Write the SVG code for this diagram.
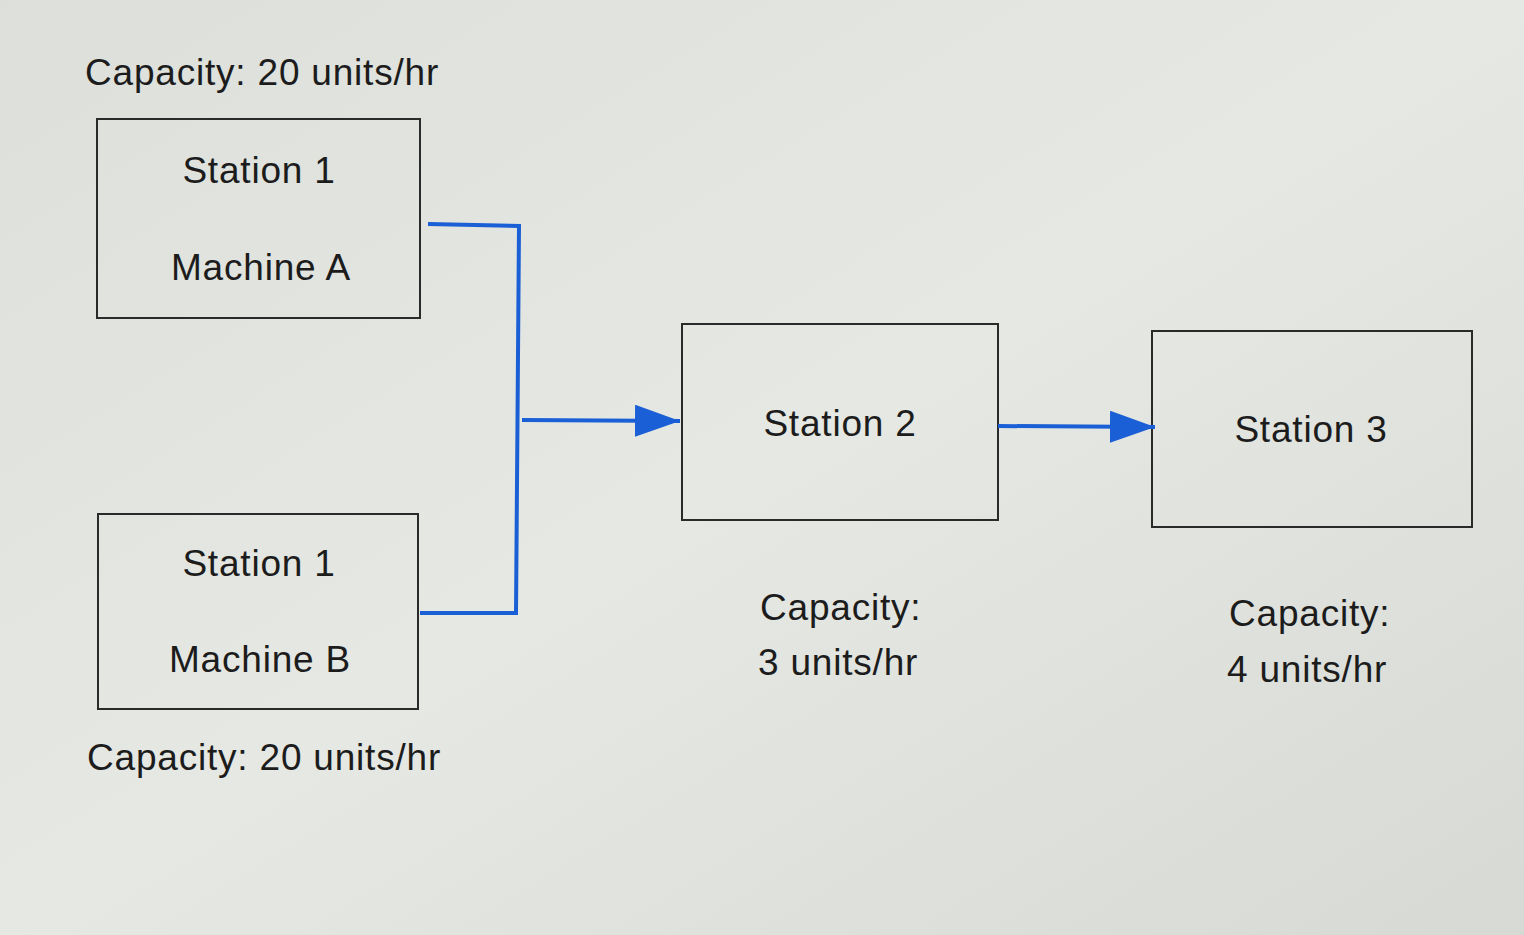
<svg xmlns="http://www.w3.org/2000/svg" width="1524" height="935" viewBox="0 0 1524 935">
<defs>
<linearGradient id="bg" x1="0" y1="0" x2="1" y2="1">
<stop offset="0" stop-color="#dcdfda"/><stop offset="0.5" stop-color="#e6e8e3"/><stop offset="1" stop-color="#d6d9d4"/>
</linearGradient>
<marker id="ah2" viewBox="0 0 45 32" refX="45" refY="16" markerWidth="45" markerHeight="32" markerUnits="userSpaceOnUse" orient="auto">
<path d="M0,0 L45,16 L0,32 Z" fill="#1a5fd6"/>
</marker>
</defs>
<style>
.box{fill:none;stroke:#2a2a2a;stroke-width:2}
.t{font-family:"Liberation Sans",Arial,sans-serif;font-size:37px;letter-spacing:0.8px;fill:#1c1c1c}
.c{text-anchor:middle}
.ln{fill:none;stroke:#1a5fd6;stroke-width:4}
</style>
<rect width="1524" height="935" fill="url(#bg)"/>
<text class="t" x="85" y="85">Capacity: 20 units/hr</text>
<g id="s1a"><rect class="box" x="97" y="119" width="323" height="199"/>
<text class="t c" x="259" y="183">Station 1</text><text class="t c" x="261" y="280">Machine A</text></g>
<g id="s1b"><rect class="box" x="98" y="514" width="320" height="195"/>
<text class="t c" x="259" y="576">Station 1</text><text class="t c" x="260" y="672">Machine B</text></g>
<text class="t" x="87" y="770">Capacity: 20 units/hr</text>
<g id="s2"><rect class="box" x="682" y="324" width="316" height="196"/>
<text class="t c" x="840" y="436">Station 2</text></g>
<g id="s3"><rect class="box" x="1152" y="331" width="320" height="196"/>
<text class="t c" x="1311" y="442">Station 3</text></g>
<text class="t" x="760" y="620">Capacity:</text>
<text class="t" x="758" y="675">3 units/hr</text>
<text class="t" x="1229" y="626">Capacity:</text>
<text class="t" x="1227" y="682">4 units/hr</text>
<g id="connectors">
<path class="ln" d="M428,224 L519,226 L516,613 L420,613"/>
<path class="ln" d="M522,420 L680,421" marker-end="url(#ah2)"/>
<path class="ln" d="M998,426 L1155,427" marker-end="url(#ah2)"/>
</g>
</svg>
